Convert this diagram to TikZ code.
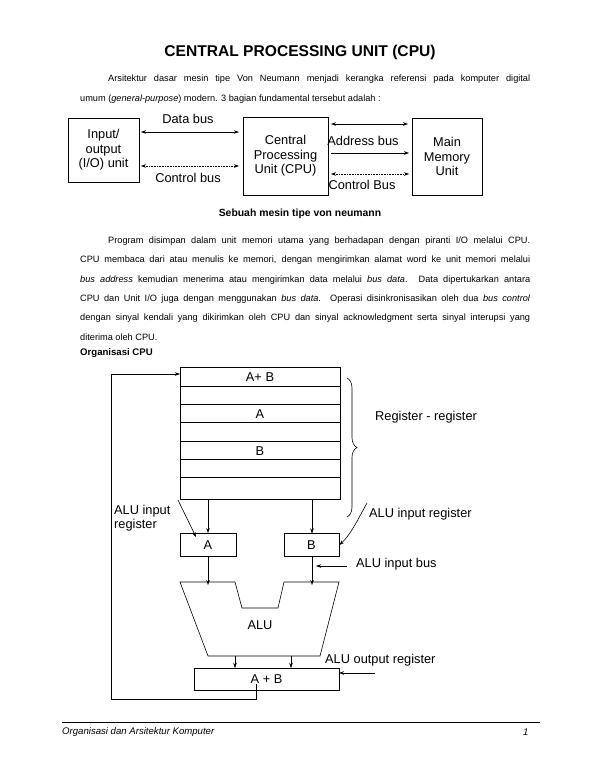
\documentclass[tikz,border=0pt]{standalone}
\usepackage{fontspec}
\setmainfont{Liberation Sans}
\usetikzlibrary{arrows.meta,decorations.pathreplacing}
\newcommand{\jl}[2]{\makebox[#1][s]{#2}}
\begin{document}
\begin{tikzpicture}[x=1pt,y=-1pt,
  body/.style={font=\fontsize{9.2}{11}\selectfont,inner sep=0pt,anchor=west},
  lbl/.style={font=\fontsize{12.8}{14.5}\selectfont,inner sep=0pt},
  box/.style={draw,line width=0.8pt},
  ln/.style={line width=0.6pt},
  arr/.style={ln,-{Stealth[length=5pt,width=3.5pt]}},
  darr/.style={ln,{Stealth[length=5pt,width=3.5pt]}-{Stealth[length=5pt,width=3.5pt]}},
  dotarr/.style={darr,densely dotted}]
\useasboundingbox (0,0) rectangle (600,776);
\fill[white] (0,0) rectangle (600,776);
\node[font=\fontsize{15.6}{17}\selectfont\bfseries] (title) at (300,52) {CENTRAL PROCESSING UNIT (CPU)};
\node[body] (p1a) at (108,79) {\jl{422pt}{Arsitektur dasar mesin tipe Von Neumann menjadi kerangka referensi pada komputer digital}};
\node[body] (p1b) at (80,99) {umum (\textit{general-purpose}) modern. 3 bagian fundamental tersebut adalah :};
% top diagram
\node[box,minimum width=71,minimum height=64,align=center,lbl] (io) at (103.5,150) {Input/\\output\\(I/O) unit};
\node[box,minimum width=85,minimum height=78,align=center,lbl] (cpu) at (285.5,156) {Central\\Processing\\Unit (CPU)};
\node[box,minimum width=70,minimum height=77,align=center,lbl] (mem) at (447,156.5) {Main\\Memory\\Unit};
\coordinate (a1) at (141,132); \coordinate (a2) at (239,132);
\draw[darr] (a1) -- (a2);
\node[lbl] (db) at (188,119) {Data bus};
\coordinate (c1) at (141,166); \coordinate (c2) at (239,166);
\draw[dotarr] (c1) -- (c2);
\node[lbl] (cb) at (188,178) {Control bus};
\coordinate (r1) at (331,124); \coordinate (r2) at (408,124);
\draw[darr] (r1) -- (r2);
\node[lbl] (ab) at (363,141) {Address bus};
\coordinate (s1) at (331,153); \coordinate (s2) at (409,153);
\draw[arr] (s1) -- (s2);
\coordinate (t1) at (331,174); \coordinate (t2) at (409,174);
\draw[dotarr] (t1) -- (t2);
\node[lbl] (cbb) at (362,185) {Control Bus};
\node[font=\fontsize{10.4}{12}\selectfont\bfseries] (cap) at (300,214) {Sebuah mesin tipe von neumann};
\node[body] (p2a) at (108,241) {\jl{422pt}{Program disimpan dalam unit memori utama yang berhadapan dengan piranti I/O melalui CPU.}};
\node[body] (p2b) at (80,260) {\jl{450pt}{CPU membaca dari atau menulis ke memori, dengan mengirimkan alamat word ke unit memori melalui}};
\node[body] (p2c) at (80,280) {\jl{450pt}{\textit{bus address} kemudian menerima atau mengirimkan data melalui \textit{bus data}. Data dipertukarkan antara}};
\node[body] (p2d) at (80,299) {\jl{450pt}{CPU dan Unit I/O juga dengan menggunakan \textit{bus data}. Operasi disinkronisasikan oleh dua \textit{bus control}}};
\node[body] (p2e) at (80,318) {\jl{450pt}{dengan sinyal kendali yang dikirimkan oleh CPU dan sinyal acknowledgment serta sinyal interupsi yang}};
\node[body] (p2f) at (80,337) {diterima oleh CPU.};
\node[body,font=\fontsize{9.6}{11}\selectfont\bfseries] (org) at (80,353) {Organisasi CPU};
% register file
\draw[box] (180,367) rectangle (340,499);
\foreach \yy in {386,404,422,441,459,477} \draw[ln] (180,\yy) -- (340,\yy);
\node[lbl] (r0) at (260,377) {A+ B};
\node[lbl] (rA) at (260,414) {A};
\node[lbl] (rB) at (260,451) {B};
\coordinate (regW) at (180,374);
\draw[ln,decorate,decoration={brace,amplitude=10pt}] (347,378) -- (347,517);
\node[lbl,anchor=west] (rr) at (375,417) {Register - register};
% ALU input registers
\node[box,minimum width=56,minimum height=23,lbl,inner sep=0pt] (ia) at (208,545) {A};
\node[box,minimum width=55,minimum height=23,lbl,inner sep=0pt] (ib) at (311.5,545) {B};
\coordinate (ra) at (208,499); \coordinate (rb) at (312,499);
\coordinate (ibn) at (312,533.5); \coordinate (ibs) at (312,556.5);
\coordinate (aluA) at (208,585); \coordinate (aluB) at (312,585);
\draw[arr] (ra) -- (ia.north);
\draw[arr] (rb) -- (ibn);
% ALU
\draw[ln] (180,582) -- (235,582) -- (242,608) -- (278,608) -- (284,582) -- (339,582) -- (320,656) -- (208,656) -- cycle;
\node[lbl] (alu) at (260,625) {ALU};
\draw[arr] (ia.south) -- (aluA);
\draw[arr] (ibs) -- (aluB);
% output register
\node[box,minimum width=145,minimum height=22,lbl,inner sep=0pt] (out) at (266.5,679) {A + B};
\coordinate (o1) at (235,656); \coordinate (o1e) at (235,668);
\coordinate (o2) at (291,656); \coordinate (o2e) at (291,668);
\draw[arr] (o1) -- (o1e);
\draw[arr] (o2) -- (o2e);
\coordinate (fb) at (256,684);
\draw[arr] (fb) -- (256,699) -- (111,699) -- (111,374) -- (regW);
% labels
\node[lbl,anchor=west,align=left] (lin) at (114,518) {ALU input\\register};
\coordinate (l1) at (178,500); \coordinate (l2) at (196,537);
\draw[arr] (l1) -- (l2);
\node[lbl,anchor=west] (rin) at (369,514) {ALU input register};
\coordinate (rc) at (367,503);
\draw[arr] (rc) .. controls (355,525) and (350,535) .. (ib.east);
\node[lbl,anchor=west] (bus) at (356,564) {ALU input bus};
\coordinate (b1) at (347,566); \coordinate (b2) at (316,566);
\draw[arr] (b1) -- (b2);
\node[lbl,anchor=west] (outl) at (325,660) {ALU output register};
\coordinate (ol1) at (375,673); \coordinate (ol2) at (339,673);
\draw[arr] (ol1) -- (ol2);
% footer
\draw[line width=0.5pt] (62,722) -- (540,722);
\node[body,font=\fontsize{9.6}{11}\selectfont\itshape] (f1) at (62,732) {Organisasi dan Arsitektur Komputer};
\node[body,font=\fontsize{9.6}{11}\selectfont\itshape] (f2) at (523,732) {1};
\end{tikzpicture}
\end{document}
